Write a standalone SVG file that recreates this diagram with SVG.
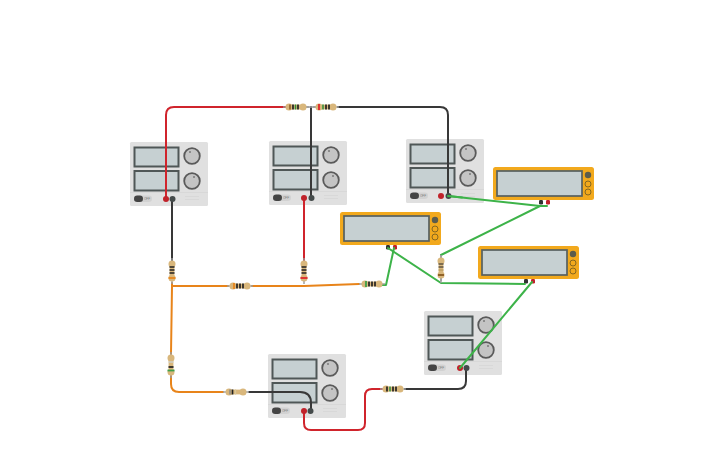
<svg xmlns="http://www.w3.org/2000/svg" width="725" height="453" viewBox="0 0 725 453">
<style>
.wire{fill:none;stroke-width:2;stroke-linecap:round;stroke-linejoin:round}
.r{stroke:#d0242c}.k{stroke:#383838}.o{stroke:#e8841a}.g{stroke:#3db349}
.lead{stroke:#9a9a9a;stroke-width:1.400;fill:none}
.body{fill:#d9b77c}
.psu-case{fill:#e0e0e0}
.lcd{fill:#c6d0d2;stroke:#4f5757;stroke-width:2}
.knob{fill:#c4c4c4;stroke:#5a5a5a;stroke-width:1.800}
.mm{fill:#f2a91d}
.mlcd{fill:#c6d0d2;stroke:#566060;stroke-width:1.700}
.off{font:3px "Liberation Sans",sans-serif;fill:#777}
.btn{fill:#f2a91d;stroke:#7a6020;stroke-width:.9}
.b{stroke:#222;stroke-width:1.700;fill:none}
</style>
<defs>
<g id="psu">
<rect class="psu-case" width="78" height="64" rx="1.500"/>
<rect x="0" y="50" width="78" height="1" fill="#d8d8d8"/>
<rect class="lcd" x="4.500" y="5.500" width="44" height="19"/>
<rect class="lcd" x="4.500" y="29" width="44" height="19.500"/>
<circle class="knob" cx="62" cy="14" r="7.800"/>
<circle class="knob" cx="62" cy="39" r="7.800"/>
<circle cx="60" cy="10" r=".8" fill="#444"/>
<circle cx="64" cy="35" r=".8" fill="#444"/>
<rect x="5" y="53.500" width="17" height="6.500" rx="3.200" fill="#d2d2d2"/>
<rect x="4" y="53.500" width="9" height="6.500" rx="3.200" fill="#444"/>
<text class="off" x="14" y="58">OFF</text>
<rect x="55" y="54" width="14" height="1" fill="#d8d8d8"/>
<rect x="55" y="57" width="14" height="1" fill="#d8d8d8"/>
</g>
<g id="mm">
<rect class="mm" width="101" height="33" rx="2.500"/>
<rect class="mlcd" x="4" y="4" width="85" height="25"/>
<circle cx="95" cy="8" r="3.200" fill="#5c5c4c"/>
<circle class="btn" cx="95" cy="17" r="3"/>
<circle class="btn" cx="95" cy="25" r="3"/>
<rect x="46" y="33" width="4" height="4.500" rx="1.200" fill="#333"/>
<rect x="53" y="33" width="4" height="4.500" rx="1.200" fill="#c0222a"/>
</g>
<g id="res">
<path class="lead" d="M-13 0H13"/>
<rect class="body" x="-9.500" y="-2.400" width="19" height="4.800"/>
<circle class="body" cx="-7" cy="0" r="3.500"/>
<circle class="body" cx="7" cy="0" r="3.500"/>
</g>
</defs>

<g id="psu1"><use href="#psu" x="130" y="142"/></g>
<g id="psu2"><use href="#psu" x="269" y="141"/></g>
<g id="psu3"><use href="#psu" x="406" y="139"/></g>
<g id="psu4"><use href="#psu" x="424" y="311"/></g>
<g id="psu5"><use href="#psu" x="268" y="354"/></g>
<g id="mm1"><use href="#mm" x="493" y="167"/></g>
<g id="mm2"><use href="#mm" x="340" y="212"/></g>
<g id="mm3"><use href="#mm" x="478" y="246"/></g>

<g id="connectors">
<path class="wire r" d="M166 199V115Q166 107 174 107H286"/>
<path class="wire k" d="M172 199L172 261"/>
<path class="wire k" d="M311 107V198"/>
<path class="wire k" d="M338 107H440Q448 107 448 115V196"/>
<path class="wire r" d="M304 198V261"/>
<path class="wire o" d="M172 283V286L171 354"/>
<path class="wire o" d="M172 286H228"/>
<path class="wire o" d="M252 286H304L359 284"/>
<path class="wire o" d="M171 376V384Q171 392 179 392H223"/>
<path class="wire g" d="M379 285H386L394 248"/>
<path class="wire g" d="M388 248L441 283L525 284"/>
<path class="wire g" d="M441 255L540 206H547"/>
<path class="wire g" d="M448 196L540 206"/>
<path class="wire k" d="M249 392H300Q311 392 311 403V411"/>
<path class="wire r" d="M304 411V423Q304 430 311 430H358Q365 430 365 423V396Q365 389 372 389H382"/>
<path class="wire k" d="M466 368V381Q466 389 458 389H405"/>
<path class="lead" d="M441 277V283M441 255V259M306 107H317"/>
<circle cx="166" cy="199" r="3" fill="#c0222a"/><circle cx="172.500" cy="199" r="3" fill="#444a4a"/>
<circle cx="304" cy="198" r="3" fill="#c0222a"/><circle cx="311.500" cy="198" r="3" fill="#444a4a"/>
<circle cx="441" cy="196" r="3" fill="#c0222a"/><circle cx="448.500" cy="196" r="3" fill="#444a4a"/>
<circle cx="304" cy="411" r="3" fill="#c0222a"/><circle cx="310.500" cy="411" r="3" fill="#444a4a"/>
<circle cx="460" cy="368" r="3" fill="#c0222a"/><circle cx="466.500" cy="368" r="3" fill="#444a4a"/>
<path class="wire g" d="M448 196L462 197.500"/>
<path class="wire g" d="M532 282L460 368"/>
</g>

<g id="r1"><use href="#res" transform="translate(296 107)"/><path d="M290 104.500v5" stroke="#8a5a20" stroke-width="1.500"/><path class="b" d="M293 104.500v5"/><path d="M295.500 104.500v5" stroke="#2f8f3a" stroke-width="1.500"/><path class="b" d="M298 104.500v5"/></g>
<g id="r2"><use href="#res" transform="translate(326 107)"/><path d="M319 104v6" stroke="#e0262b" stroke-width="1.800"/><path d="M323 104.500v5" stroke="#2f8f3a" stroke-width="1.500"/><path class="b" d="M326 104.500v5M329 104.500v5"/></g>
<g id="r3"><use href="#res" transform="translate(172 271) rotate(90)"/><path class="b" d="M169.500 267h5M169.500 270h5M169.500 273h5"/><path d="M168.500 278h7" stroke="#e8861c" stroke-width="1.800"/></g>
<g id="r4"><use href="#res" transform="translate(304 271) rotate(90)"/><path class="b" d="M301.500 267h5M301.500 270h5M301.500 273h5"/><path d="M300.500 278h7" stroke="#e0262b" stroke-width="1.800"/></g>
<g id="r5"><use href="#res" transform="translate(240 286)"/><path d="M234 283v6" stroke="#e8861c" stroke-width="1.800"/><path class="b" d="M237 283.500v5M240 283.500v5M243 283.500v5"/></g>
<g id="r6"><use href="#res" transform="translate(372 284)"/><path d="M366 281v6" stroke="#3fa04a" stroke-width="1.800"/><path class="b" d="M369 281.500v5M372 281.500v5M375 281.500v5"/></g>
<g id="r7"><use href="#res" transform="translate(441 268) rotate(90)"/><path class="b" d="M438.500 264h5M438.500 267h5" style="stroke-width:1"/><path d="M438.500 270h5" stroke="#b89a5a" stroke-width="1.200"/><path d="M438 275h6" stroke="#8a5a20" stroke-width="1.800"/></g>
<g id="r8"><use href="#res" transform="translate(171 365) rotate(90)"/><path d="M168.500 362h5" stroke="#cfd0c8" stroke-width="1.500"/><path class="b" d="M168.500 367h5"/><path d="M167.500 370.500h7" stroke="#3fa04a" stroke-width="1.800"/></g>
<g id="r9"><use href="#res" transform="translate(236 392)"/><path d="M230 389.500v5" stroke="#8a8a8a" stroke-width="1.500"/><path class="b" d="M232.500 389.500v5"/><path d="M235.500 389.500v5" stroke="#d8c79a" stroke-width="1.300"/></g>
<g id="r10"><use href="#res" transform="translate(393 389)"/><path class="b" d="M387 386.500v5"/><path d="M390 386.500v5" stroke="#2f8f3a" stroke-width="1.500"/><path class="b" d="M393 386.500v5M396 386.500v5"/></g>
</svg>
